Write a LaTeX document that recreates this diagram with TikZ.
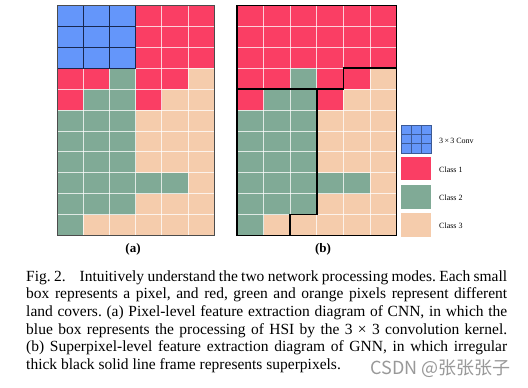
\documentclass[tikz,border=0pt]{standalone}
\usepackage{fontspec}
\setmainfont{Liberation Serif}
\newfontfamily\cjkfont{Noto Sans CJK SC}
\definecolor{cB}{RGB}{100,150,250}
\definecolor{cR}{RGB}{250,62,100}
\definecolor{cG}{RGB}{128,170,150}
\definecolor{cO}{RGB}{245,204,172}
\definecolor{bluegrid}{RGB}{25,40,80}
\frenchspacing
\begin{document}
\begin{tikzpicture}[x=1pt,y=-1pt,
  sep/.style={white,opacity=0.75,line width=0.8pt},
  blueline/.style={bluegrid,line width=1pt},
  spframe/.style={black,line width=1.7pt,line join=miter},
  captext/.style={anchor=base west,inner sep=0pt,font=\fontsize{15.5}{17.7}\selectfont},
  legtext/.style={anchor=west,inner sep=0pt,font=\fontsize{8}{9}\selectfont},
  sublabel/.style={inner sep=0pt,font=\fontsize{13}{15}\selectfont\bfseries}]
\useasboundingbox (0,0) rectangle (528,388);
\fill[white] (0,0) rectangle (528,388);
\def\ch{20.9}
% ---------------- grid (a)
\def\cw{26.2}
\begin{scope}[shift={(57,5.5)}]
\foreach \row [count=\r from 0] in {{B,B,B,R,R,R},{B,B,B,R,R,R},{B,B,B,R,R,R},{R,R,G,R,R,O},{R,G,G,R,O,O},{G,G,G,O,O,O},{G,G,G,O,O,O},{G,G,G,O,O,O},{G,G,G,G,G,O},{G,G,G,O,O,O},{G,O,O,O,O,O}}{
  \foreach \c [count=\k from 0] in \row {
    \fill[c\c] (\k*\cw,\r*\ch) rectangle ++(\cw,\ch);
  }}
\foreach \i in {1,...,5} \draw[sep] (\i*\cw,0) -- (\i*\cw,11*\ch);
\foreach \j in {1,...,10} \draw[sep] (0,\j*\ch) -- (6*\cw,\j*\ch);
\foreach \i in {0,...,3} \draw[blueline] (\i*\cw,0) -- (\i*\cw,3*\ch);
\foreach \j in {0,...,3} \draw[blueline] (0,\j*\ch) -- (3*\cw,\j*\ch);
\draw[gray!60!black,line width=0.6pt] (0,0) rectangle (6*\cw,11*\ch);
\end{scope}
% ---------------- grid (b)
\def\cw{26.6}
\begin{scope}[shift={(237,5.5)}]
\foreach \row [count=\r from 0] in {{R,R,R,R,R,R},{R,R,R,R,R,R},{R,R,R,R,R,R},{R,R,G,R,R,O},{R,G,G,R,O,O},{G,G,G,O,O,O},{G,G,G,O,O,O},{G,G,G,O,O,O},{G,G,G,G,G,O},{G,G,G,O,O,O},{G,O,O,O,O,O}}{
  \foreach \c [count=\k from 0] in \row {
    \fill[c\c] (\k*\cw,\r*\ch) rectangle ++(\cw,\ch);
  }}
\foreach \i in {1,...,5} \draw[sep] (\i*\cw,0) -- (\i*\cw,11*\ch);
\foreach \j in {1,...,10} \draw[sep] (0,\j*\ch) -- (6*\cw,\j*\ch);
\draw[spframe] (0,0) rectangle (6*\cw,11*\ch);
\draw[spframe] (0,4*\ch) -- (4*\cw,4*\ch) -- (4*\cw,3*\ch) -- (6*\cw,3*\ch);
\draw[spframe] (3*\cw,4*\ch) -- (3*\cw,10*\ch) -- (2*\cw,10*\ch) -- (2*\cw,11*\ch);
\end{scope}
% ---------------- legend
\fill[cB] (401,125) rectangle (431,153);
\foreach \i in {1,2} {
  \draw[cB!60!black,line width=0.6pt] (401+\i*10,125) -- (401+\i*10,153);
  \draw[cB!60!black,line width=0.6pt] (401,125+\i*9.33) -- (431,125+\i*9.33);}
\draw[cB!60!black,line width=0.6pt] (401,125) rectangle (431,153);
\fill[cR] (401,157) rectangle (431,180);
\fill[cG] (401,185) rectangle (431,209);
\fill[cO] (401,213) rectangle (431,237);
\node[legtext] (lconv) at (439,141) {3\,×\,3 Conv};
\node[legtext] (lc1) at (439,170) {Class 1};
\node[legtext] (lc2) at (439,198) {Class 2};
\node[legtext] (lc3) at (439,226) {Class 3};
% ---------------- sub labels
\node[sublabel] (la) at (133,249) {(a)};
\node[sublabel] (lb) at (323,249) {(b)};
% ---------------- caption
\node[captext] (cap1) at (26,281) {\makebox[481pt][s]{Fig. 2.\hspace{0.9em}Intuitively understand the two network processing modes. Each small}};
\node[captext] (cap2) at (26,298.7) {\makebox[481pt][s]{box represents a pixel, and red, green and orange pixels represent different}};
\node[captext] (cap3) at (26,316.4) {\makebox[481pt][s]{land covers. (a) Pixel-level feature extraction diagram of CNN, in which the}};
\node[captext] (cap4) at (26,334.1) {\makebox[481pt][s]{blue box represents the processing of HSI by the 3 × 3 convolution kernel.}};
\node[captext] (cap5) at (26,351.8) {\makebox[481pt][s]{(b) Superpixel-level feature extraction diagram of GNN, in which irregular}};
\node[captext] (cap6) at (26,369.5) {thick black solid line frame represents superpixels.};
% ---------------- watermark
\node[anchor=east,inner sep=0pt,text=gray!80,font=\cjkfont\fontsize{18}{20}\selectfont] (wm) at (511,369) {CSDN @张张张子};
\end{tikzpicture}
\end{document}
